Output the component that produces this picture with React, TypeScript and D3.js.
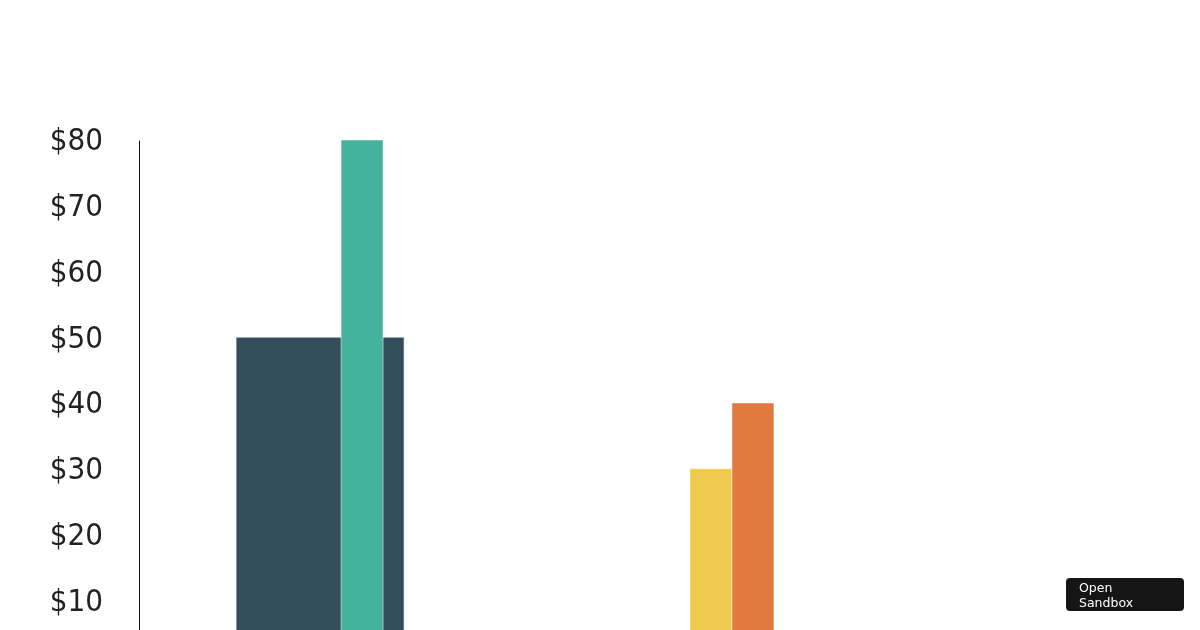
import React, { useEffect, useRef } from "react";
import * as d3 from "d3";

const groups = ["Group A", "Group B"];
const seriesKeys = ["Supplies", "Services", "Revenue", "Other"];
const seriesColors = ["#EFC94C", "#E27A3F", "#45B29D", "#DF5A49"];
const budget = [50, 0];
const groupBars = [
  { group: "Group A", key: "Revenue", value: 80 },
  { group: "Group B", key: "Supplies", value: 30 },
  { group: "Group B", key: "Services", value: 40 },
];
const yTicks = [10, 20, 30, 40, 50, 60, 70, 80];

const width = 1200;
const height = 700;
const margin = { top: 140, left: 139, bottom: 34 };

const App = () => {
  const ref = useRef<SVGSVGElement>(null);

  useEffect(() => {
    const svg = d3.select(ref.current);
    svg.selectAll("*").remove();

    const y = d3
      .scaleLinear()
      .domain([0, 80])
      .range([height - margin.bottom, margin.top]);

    const x0 = d3
      .scaleBand()
      .domain(groups)
      .range([margin.left, 955])
      .paddingInner(0.63)
      .paddingOuter(0.214);

    const x1 = d3
      .scaleBand()
      .domain(seriesKeys)
      .range([0, x0.bandwidth()]);

    const color = d3.scaleOrdinal<string>().domain(seriesKeys).range(seriesColors);

    // wide budget bars behind
    svg
      .append("g")
      .selectAll("rect")
      .data(groups.map((g, i) => ({ group: g, value: budget[i] })).filter((d) => d.value > 0))
      .join("rect")
      .attr("x", (d) => x0(d.group)!)
      .attr("y", (d) => y(d.value))
      .attr("width", x0.bandwidth())
      .attr("height", (d) => y(0) - y(d.value))
      .attr("fill", "#334D5C")
      .attr("stroke", "#fff")
      .attr("stroke-opacity", 0.5);

    // series bars; single bar in a group sits half a slot over
    svg
      .append("g")
      .selectAll("rect")
      .data(groupBars)
      .join("rect")
      .attr("x", (d) => {
        const n = groupBars.filter((b) => b.group === d.group).length;
        const shift = n === 1 ? x1.bandwidth() / 2 : 0;
        return x0(d.group)! + x1(d.key)! + shift;
      })
      .attr("y", (d) => y(d.value))
      .attr("width", x1.bandwidth())
      .attr("height", (d) => y(0) - y(d.value))
      .attr("fill", (d) => color(d.key))
      .attr("stroke", "#fff")
      .attr("stroke-opacity", 0.5);

    const axis = svg
      .append("g")
      .attr("transform", `translate(${margin.left},0)`)
      .call(
        d3
          .axisLeft(y)
          .tickValues(yTicks)
          .tickSize(0)
          .tickPadding(36)
          .tickFormat((d) => `$${d}`)
      );
    axis.select(".domain").attr("stroke", "#111");
    axis
      .selectAll("text")
      .attr("font-family", "DejaVu Sans Condensed, DejaVu Sans")
      .attr("font-stretch", "condensed")
      .attr("font-size", 31)
      .attr("fill", "#222");
  }, []);

  return (
    <div style={{ position: "fixed", left: 0, top: 0 }}>
      <svg ref={ref} width={width} height={height} style={{ display: "block" }} />
      <div
        style={{
          position: "absolute",
          left: 1066,
          top: 578,
          width: 118,
          height: 33,
          background: "#151515",
          borderRadius: 4,
          color: "#fff",
          fontFamily: "DejaVu Sans",
          fontSize: 12.5,
          lineHeight: "15px",
          padding: "2px 0 0 13px",
          boxSizing: "border-box",
        }}
      >
        Open
        <br />
        Sandbox
      </div>
    </div>
  );
};

export default App;
